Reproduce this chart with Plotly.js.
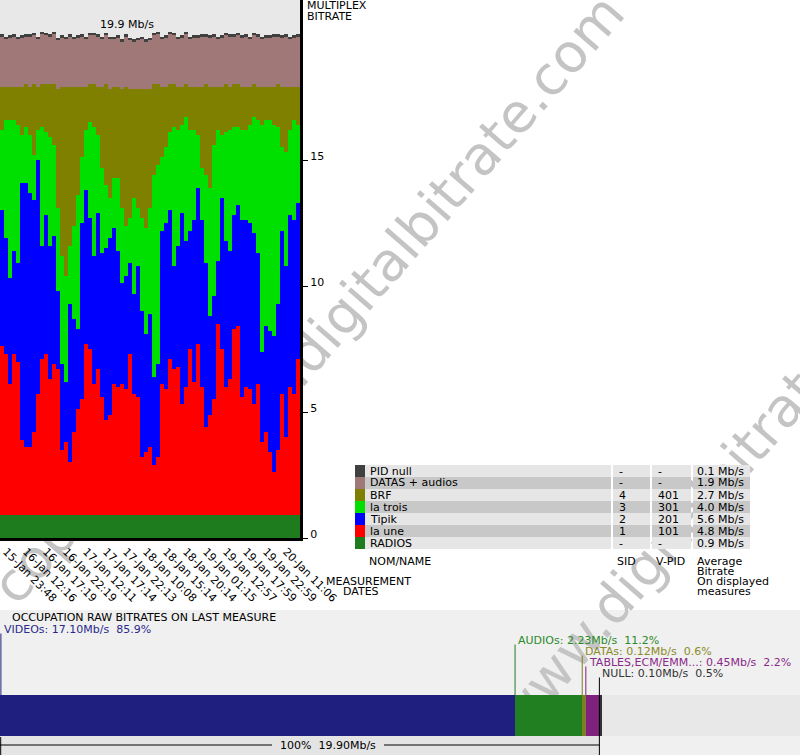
<!DOCTYPE html>
<html><head><meta charset="utf-8">
<script src="https://cdn.plot.ly/plotly-3.0.1.min.js"></script>
<style>
html,body{margin:0;padding:0;background:#fff;width:800px;height:755px;overflow:hidden;font-family:"DejaVu Sans",Verdana,sans-serif;}
#panel{position:absolute;left:0;top:610px;width:800px;height:145px;background:#f0f0f0;}
.wm{position:absolute;white-space:nowrap;font-size:54px;color:#c4c4c4;transform-origin:0 0;transform:rotate(-49deg);line-height:1;}
#chart{position:absolute;left:0;top:0;width:800px;height:755px;}
</style></head><body>
<div id="panel"></div>
<div class="wm" style="left:183px;top:457px;">www.digitalbitrate.com</div>
<div class="wm" style="left:486px;top:709px;">www.digitalbitrate.com</div>
<div class="wm" style="left:-17px;top:578px;">copyright</div>
<div id="chart"></div>
<script>
// ---- data (Mb/s per measurement) ----
const tickLabels = ['15-Jan 23:48','16-Jan 12:16','16-Jan 17:19','16-Jan 22:19','17-Jan 12:11','17-Jan 17:14','17-Jan 22:13','18-Jan 10:08','18-Jan 15:14','18-Jan 20:14','19-Jan 01:15','19-Jan 12:57','19-Jan 17:59','19-Jan 22:59','20-Jan 11:06'];
const radios = [0.9,0.9,0.9,0.9,0.9,0.9,0.9,0.9,0.9,0.9,0.9,0.9,0.9,0.9,0.9,0.9,0.9,0.9,0.9,0.9,0.9,0.9,0.9,0.9,0.9,0.9,0.9,0.9,0.9,0.9,0.9,0.9,0.9,0.9,0.9,0.9,0.9,0.9,0.9,0.9,0.9,0.9,0.9,0.9,0.9,0.9,0.9,0.9,0.9,0.9,0.9,0.9,0.9,0.9,0.9,0.9,0.9,0.9,0.9,0.9,0.9,0.9,0.9,0.9,0.9,0.9,0.9,0.9,0.9,0.9,0.9,0.9,0.9,0.9,0.9];
const laUne = [6.7,6.4,5.2,6.4,6.1,3.0,2.7,2.7,3.3,4.8, 6.2,6.4,5.4,6.0,5.8,2.6,2.9,2.1,3.3,4.2, 4.6,6.8,6.6,5.2,5.8,4.7,3.8,4.0,5.2,5.1, 5.2,5.0,6.4,4.8,4.7,2.3,2.5,2.7,2.0,2.3, 5.2,5.0,6.2,5.8,5.9,4.4,5.1,6.6,5.3,6.8, 5.1,3.5,4.0,4.6,7.6,6.6,5.1,5.4,7.4,7.5, 4.7,5.1,5.0,4.4,5.2,2.9,3.3,2.5,1.7,2.6, 4.8,3.1,5.1,4.8,6.2];
const tipik = [5.4,4.6,4.2,4.1,3.9,10.2,10.5,10.1,9.2,9.3, 4.5,5.5,5.3,5.1,3.1,3.4,2.4,6.3,4.5,3.2, 7.0,6.1,5.2,5.1,6.2,5.7,6.8,7.0,6.2,5.4, 4.0,4.5,3.6,4.0,5.2,5.8,4.7,5.3,3.5,3.7, 6.1,6.6,5.9,4.1,4.8,7.6,5.8,4.7,6.4,6.2, 6.6,6.5,3.9,4.1,2.5,6.0,5.8,5.1,4.5,4.8, 7.0,6.6,6.6,6.8,5.2,3.6,4.2,4.8,5.4,5.8, 6.5,6.8,6.8,6.9,6.2];
const laTrois = [3.2,4.7,6.3,5.2,5.5,1.9,2.2,2.3,1.8,1.2, 4.7,3.3,4.3,3.6,3.3,4.3,4.2,2.3,3.7,5.3, 2.6,2.4,3.8,5.1,3.1,3.4,2.5,1.6,2.0,2.9, 3.0,2.0,1.8,3.8,2.3,3.7,4.2,4.2,8.0,7.9, 2.9,3.0,3.1,5.5,4.6,3.5,4.9,4.0,3.6,2.1, 2.1,3.5,5.1,6.0,5.2,2.5,4.3,4.8,3.5,3.1, 3.6,3.6,3.9,4.6,5.3,9.0,8.2,8.4,8.4,7.0, 3.3,4.5,3.4,4.0,3.1];
const brf = [1.7,1.3,1.3,1.3,1.5,1.9,1.7,1.9,2.8,1.7, 1.7,1.9,2.1,2.4,4.7,6.7,7.5,6.3,5.5,4.3, 2.8,1.7,1.5,1.7,1.9,3.2,4.0,4.3,3.6,3.6, 4.7,5.5,5.1,4.3,4.7,5.1,5.5,4.7,3.6,3.2, 2.8,2.4,1.9,1.7,1.7,1.5,1.3,1.7,1.7,1.9, 3.2,3.6,4.0,2.3,1.7,1.9,1.9,1.7,1.7,1.7, 1.7,1.7,1.5,1.3,1.3,1.5,1.3,1.3,1.5,1.7, 2.4,2.6,1.7,1.3,1.5];
const datas = [2.0,1.9,1.95,2.0,1.9,1.95,1.9,2.0,1.95,1.9, 2.0,1.95,1.9,2.0,1.95,1.95,1.9,2.0,1.9,1.95, 2.0,1.9,1.95,1.95,2.0,1.9,1.95,2.0,1.9,1.95, 1.9,2.0,1.95,1.9,1.95,2.0,1.9,1.95,1.95,2.0, 1.9,1.95,2.0,1.95,1.9,1.95,2.0,1.9,1.95,1.95, 2.0,1.9,1.95,2.0,1.9,1.95,1.95,2.0,1.9,1.95, 1.95,2.0,1.9,1.95,2.0,1.9,1.95,1.95,2.0,1.9, 1.95,2.0,1.9,1.95,2.0];
const pidNull = [0.1,0.1,0.1,0.1,0.1,0.1,0.1,0.1,0.1,0.1,0.1,0.1,0.1,0.1,0.1,0.1,0.1,0.1,0.1,0.1,0.1,0.1,0.1,0.1,0.1,0.1,0.1,0.1,0.1,0.1,0.1,0.1,0.1,0.1,0.1,0.1,0.1,0.1,0.1,0.1,0.1,0.1,0.1,0.1,0.1,0.1,0.1,0.1,0.1,0.1,0.1,0.1,0.1,0.1,0.1,0.1,0.1,0.1,0.1,0.1,0.1,0.1,0.1,0.1,0.1,0.1,0.1,0.1,0.1,0.1,0.1,0.1,0.1,0.1,0.1];
const peakLabel = '19.9 Mb/s';

// legend table
const legendNames = ['PID null','DATAS + audios','BRF','la trois','Tipik','la une','RADIOS'];
const legendSid   = ['-','-','4','3','2','1','-'];
const legendVpid  = ['-','-','401','301','201','101','-'];
const legendAvg   = ['0.1 Mb/s','1.9 Mb/s','2.7 Mb/s','4.0 Mb/s','5.6 Mb/s','4.8 Mb/s','0.9 Mb/s'];
const legendColors= ['#404040','#a07878','#7f7f00','#00e000','#0000ff','#ff0000','#1e7b1e'];

// occupation on last measure
const occNames  = ['VIDEOs','AUDIOs','DATAs','TABLES,ECM/EMM...','NULL'];
const occValues = [17.10, 2.23, 0.12, 0.45, 0.10];
const occPct    = [85.9, 11.2, 0.6, 2.2, 0.5];
const occColors = ['#1f1f7f','#217f21','#7f7f21','#7f217f','#333333'];
const occText   = ['#2a2a8c','#2a8a2a','#8a8a2a','#8a2a8a','#333333'];
const occTotal  = 19.90;

// ---- drawing ----
const W=800,H=755;
const px=x=>x/W, py=y=>1-y/H;
const FONT='"DejaVu Sans", Verdana, sans-serif';
const xIdx = laUne.map((_,i)=>i);
const tickPos = tickLabels.map((_,i)=>i*5-0.5);

const stackOrder = [
 {name:'RADIOS', y:radios, color:'#1e7b1e'},
 {name:'la une', y:laUne, color:'#ff0000'},
 {name:'Tipik', y:tipik, color:'#0000ff'},
 {name:'la trois', y:laTrois, color:'#00e000'},
 {name:'BRF', y:brf, color:'#7f7f00'},
 {name:'DATAS + audios', y:datas, color:'#a07878'},
 {name:'PID null', y:pidNull, color:'#404040'}
];
const traces = stackOrder.map(s=>({type:'bar',x:xIdx,y:s.y,width:1,name:s.name,
  marker:{color:s.color,line:{width:0}},xaxis:'x',yaxis:'y',showlegend:false,hoverinfo:'skip'}));
traces.push({type:'scatter',mode:'markers',x:tickPos.slice(1),y:tickPos.slice(1).map(()=>-0.28),xaxis:'x',yaxis:'y',
  marker:{symbol:'square',size:2,color:'#ff0000',line:{width:0}},cliponaxis:false,showlegend:false,hoverinfo:'skip'});
occValues.forEach((v,i)=>traces.push({type:'bar',orientation:'h',x:[v],y:[0],width:1,xaxis:'x2',yaxis:'y2',
  marker:{color:occColors[i],line:{width:0}},showlegend:false,hoverinfo:'skip'}));

const shapes=[], annotations=[];
const ann=(text,x,y,opt={})=>annotations.push(Object.assign({text,x:px(x),y:py(y),xref:'paper',yref:'paper',
  showarrow:false,xanchor:'left',yanchor:'middle',font:{family:FONT,size:11,color:'#000'}},opt));

// chart texts
ann(peakLabel,127,25,{xanchor:'center'});
ann('MULTIPLEX',305,6);
ann('BITRATE',305,16);
ann('MEASUREMENT',324,581);
ann('DATES',341,591);

// legend table
const rowTop=465,rowH=12;
const cols=[[365,611],[613,650],[652,691],[693,750]];
legendNames.forEach((n,i)=>{
  const y0=rowTop+i*rowH,y1=y0+rowH,bg=(i%2===0)?'#e6e6e6':'#c8c8c8';
  cols.forEach(c=>shapes.push({type:'rect',xref:'paper',yref:'paper',x0:px(c[0]),x1:px(c[1]),y0:py(y1),y1:py(y0),fillcolor:bg,line:{width:0},layer:'below'}));
  shapes.push({type:'rect',xref:'paper',yref:'paper',x0:px(355),x1:px(365),y0:py(y1),y1:py(y0),fillcolor:legendColors[i],line:{width:0},layer:'below'});
  const yc=y0+rowH/2;
  ann(n,368,yc); ann(legendSid[i],617,yc); ann(legendVpid[i],656,yc); ann(legendAvg[i],695,yc);
});
ann('NOM/NAME',367,561); ann('SID',615,561); ann('V-PID',654,561);
ann('Average',695,561); ann('Bitrate',695,571); ann('On displayed',695,581); ann('measures',695,591);

// occupation panel
const sc=30.12; // px per Mb/s
shapes.push({type:'rect',xref:'paper',yref:'paper',x0:0,x1:px(occTotal*sc),y0:py(755),y1:py(736),fillcolor:'#e4e4e4',line:{width:0},layer:'below'});
ann('OCCUPATION RAW BITRATES ON LAST MEASURE',10,617);
let cum=0;
occValues.forEach((v,i)=>{
  const yc=629+i*11;
  const lx=Math.max(cum,0.03);
  shapes.push({type:'line',xref:'x2',yref:'paper',x0:lx,x1:lx,y0:py(i===occValues.length-1?755:695),y1:py(yc+4.5),line:{color:i===occValues.length-1?'#000':occColors[i],width:1}});
  annotations.push({text:occNames[i]+':\u00a0'+v.toFixed(2)+'Mb/s\u00a0\u00a0'+occPct[i].toFixed(1)+'%',x:lx,xref:'x2',y:py(yc),yref:'paper',
    xanchor:'left',yanchor:'middle',xshift:1,showarrow:false,font:{family:FONT,size:11,color:occText[i]}});
  cum+=v;
});
shapes.push({type:'line',xref:'paper',yref:'paper',x0:px(0),x1:px(272),y0:py(745),y1:py(745),line:{color:'#000',width:1}});
shapes.push({type:'line',xref:'paper',yref:'paper',x0:px(384),x1:px(occTotal*sc),y0:py(745),y1:py(745),line:{color:'#000',width:1}});
shapes.push({type:'line',xref:'paper',yref:'paper',x0:px(0.7),x1:px(0.7),y0:py(755),y1:py(737),line:{color:'#000',width:1}});
ann('100%\u00a0\u00a0'+occTotal.toFixed(2)+'Mb/s',328,745,{xanchor:'center'});

const layout={
  width:W,height:H,margin:{l:0,r:0,t:0,b:0},paper_bgcolor:'rgba(0,0,0,0)',plot_bgcolor:'#e8e8e8',
  barmode:'stack',bargap:0,showlegend:false,hovermode:false,font:{family:FONT,size:11,color:'#000'},
  xaxis:{domain:[0,px(300)],range:[-0.53,xIdx.length-0.5],tickvals:tickPos,ticktext:tickLabels,tickangle:45,
    ticks:'',showgrid:false,zeroline:false,showline:true,linecolor:'#000',linewidth:3,ticklabeloverflow:'allow',
    ticklabelshift:6,tickfont:{family:FONT,size:11,color:'#000'},fixedrange:true},
  yaxis:{domain:[py(538),1],range:[0,21.35],side:'right',tickvals:[0,5,10,15],ticks:'outside',ticklen:5,tickwidth:1,
    tickcolor:'#000',showgrid:false,zeroline:false,showline:true,linecolor:'#000',linewidth:3,ticklabelshift:-4,
    tickfont:{family:FONT,size:11,color:'#000'},fixedrange:true},
  xaxis2:{domain:[0,1],range:[0,W/sc],visible:false,anchor:'y2',fixedrange:true},
  yaxis2:{domain:[py(736),py(695)],range:[-0.5,0.5],visible:false,anchor:'x2',fixedrange:true},
  shapes,annotations
};
Plotly.newPlot('chart',traces,layout,{staticPlot:true,displayModeBar:false});
</script>
</body></html>
